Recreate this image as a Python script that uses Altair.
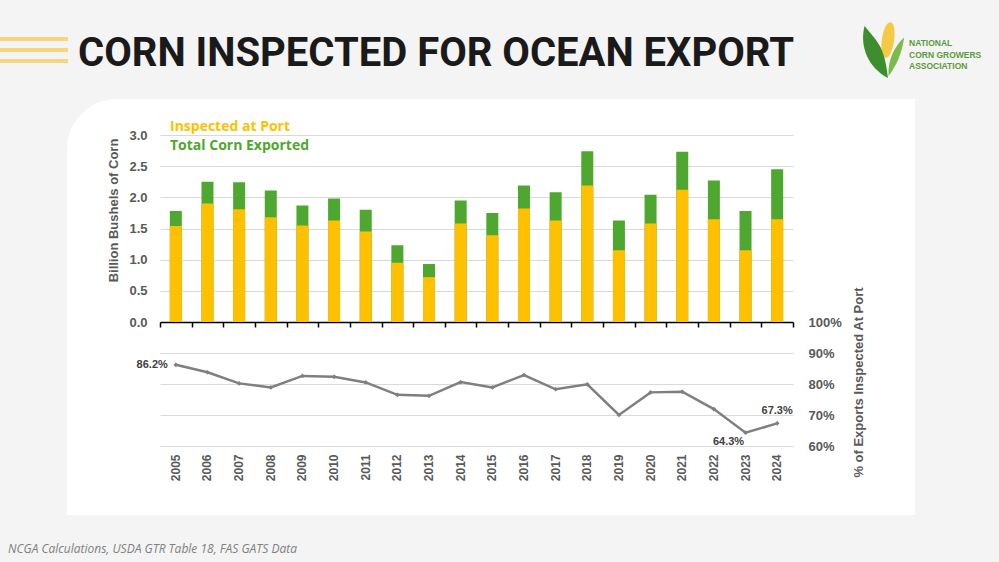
import altair as alt
import pandas as pd

# ---------------- data ----------------
years = ["2005", "2006", "2007", "2008", "2009", "2010", "2011", "2012", "2013", "2014",
         "2015", "2016", "2017", "2018", "2019", "2020", "2021", "2022", "2023", "2024"]
total_exported = [1.78, 2.25, 2.24, 2.11, 1.87, 1.98, 1.80, 1.23, 0.93, 1.95,
                  1.75, 2.19, 2.08, 2.74, 1.63, 2.04, 2.73, 2.27, 1.78, 2.45]
inspected_at_port = [1.54, 1.90, 1.81, 1.68, 1.55, 1.63, 1.45, 0.95, 0.72, 1.58,
                     1.39, 1.82, 1.63, 2.19, 1.15, 1.58, 2.12, 1.65, 1.15, 1.65]
pct_inspected = [86.2, 83.8, 80.2, 78.9, 82.6, 82.3, 80.5, 76.5, 76.2, 80.6,
                 78.9, 82.9, 78.3, 79.9, 70.0, 77.3, 77.5, 71.9, 64.3, 67.3]
bar_ticks = [0, 0.5, 1.0, 1.5, 2.0, 2.5, 3.0]
pct_ticks = [60, 70, 80, 90, 100]
legend_labels = ["Inspected at Port", "Total Corn Exported"]
annotated_years = ["2005", "2023", "2024"]

title_text = "CORN INSPECTED FOR OCEAN EXPORT"
source_text = "NCGA Calculations, USDA GTR Table 18, FAS GATS Data"
logo_lines = ["NATIONAL", "CORN GROWERS", "ASSOCIATION"]

df = pd.DataFrame({"year": years, "total": total_exported,
                   "inspected": inspected_at_port, "pct": pct_inspected})

# ---------------- layout / style ----------------
W, H = 633, 187          # bar plot area
XO, YO = 160, 135        # plot origin on the page
def px(v): return v - XO
def py(v): return v - YO

YELLOW = "#FFC000"
GREEN = "#4EA72E"
LINE = "#7F7F7F"
AXG = "#595959"
GRID = "#D9D9D9"
BG = "#F4F4F4"
AXFONT = "Liberation Sans"

one = pd.DataFrame({"k": [0]})


def rect(x1, x2, y1, y2, color):
    return alt.Chart(one).mark_rect(color=color, strokeWidth=0).encode(
        x=alt.value(px(x1)), x2=alt.value(px(x2)),
        y=alt.value(py(y1)), y2=alt.value(py(y2)))


def label(text, x, y, **kw):
    return alt.Chart(pd.DataFrame({"t": [text]})).mark_text(**kw).encode(
        text="t:N", x=alt.value(px(x)), y=alt.value(py(y)))


def shape(path, cx, cy, side, color, angle=0):
    return alt.Chart(one).mark_point(shape=path, filled=True, opacity=1, strokeWidth=0,
                                     color=color, angle=angle).encode(
        x=alt.value(px(cx)), y=alt.value(py(cy)), size=alt.value(side * side))


# page frame: grey outside the white panel
frame = [
    rect(0, 999, 0, 99, BG),
    rect(0, 67, 99, 562, BG),
    rect(915, 999, 99, 562, BG),
    rect(67, 915, 515, 562, BG),
    shape("M -1 -1 L 1 -1 A 2 2 0 0 0 -1 1 Z", 92, 124, 50, BG),
]

stripes = [rect(0, 68, y - 2, y + 2, "#F8D57C") for y in (39, 50, 61)]

title = label(title_text, 78, 66, align="left", baseline="alphabetic",
              font="Roboto", fontSize=40, fontWeight="bold", color="#1A1A1A")

source = label(source_text, 8, 549, align="left", baseline="middle",
               font="Open Sans", fontSize=12, fontStyle="italic", color="#808080")

LOGO_G = "#5A9A3C"
logo = [
    shape("M 0 -1 C 0.45 -1 0.45 1 0 1 C -0.45 1 -0.45 -1 0 -1 Z", 888, 40, 36, "#F6C945", 8),
    shape("M -0.75 -1 C -0.95 -0.2 -0.6 0.6 0.15 1 C 0.1 0.5 0.0 0 -0.2 -0.3 "
          "C -0.35 -0.55 -0.6 -0.8 -0.75 -1 Z", 884, 52, 52, "#3E8E2F"),
    shape("M 0.8 -0.6 C 0.45 -0.3 0.1 0.3 0.15 1 C 0.45 0.6 0.7 0.1 0.8 -0.6 Z",
          885, 52, 48, "#7DBA4A"),
    label(logo_lines[0], 909, 43, align="left", baseline="middle", font=AXFONT,
          fontSize=8.5, fontWeight="bold", color=LOGO_G),
    label(logo_lines[1], 909, 54.5, align="left", baseline="middle", font=AXFONT,
          fontSize=8.5, fontWeight="bold", color=LOGO_G),
    label(logo_lines[2], 909, 66, align="left", baseline="middle", font=AXFONT,
          fontSize=8.5, fontWeight="bold", color=LOGO_G),
]

legend = [
    label(legend_labels[0], 170, 127, align="left", baseline="middle",
          font="Open Sans", fontSize=14, fontWeight="bold", color=YELLOW),
    label(legend_labels[1], 170, 146, align="left", baseline="middle",
          font="Open Sans", fontSize=14, fontWeight="bold", color=GREEN),
]

# ---------------- bars ----------------
bar_x_axis = alt.Axis(orient="bottom", labels=False, ticks=True, tickBand="extent",
                      tickSize=5, tickColor="black", tickWidth=1.5,
                      domainColor="black", domainWidth=1.5, grid=False, title=None)
bar_y_axis = alt.Axis(values=bar_ticks, format=".1f", grid=True, gridColor=GRID,
                      domain=False, ticks=False, labelPadding=13, labelFontSize=13,
                      labelFont=AXFONT, labelFontWeight="bold", labelColor=AXG,
                      title="Billion Bushels of Corn", titleX=-47, titleY=75,
                      titleAngle=-90, titleAlign="center", titleBaseline="middle",
                      titleFont=AXFONT, titleFontSize=13, titleFontWeight="bold",
                      titleColor=AXG)
x_bar = alt.X("year:N", sort=years, title=None,
              scale=alt.Scale(paddingInner=0, paddingOuter=0), axis=bar_x_axis)
y_scale = alt.Scale(domain=[0, 3], nice=False)

green = alt.Chart(df).mark_bar(size=12, color=GREEN).encode(
    x=x_bar, y=alt.Y("total:Q", scale=y_scale, axis=bar_y_axis))
yellow = alt.Chart(df).mark_bar(size=12, color=YELLOW).encode(
    x=x_bar, y=alt.Y("inspected:Q", scale=y_scale, axis=bar_y_axis))

bars_group = alt.layer(*frame, *stripes, title, source, *logo, *legend, green, yellow)

# ---------------- line ----------------
line_x_axis = alt.Axis(orient="bottom", offset=124, labelAngle=-90, domain=False,
                       ticks=False, labelPadding=8, labelFontSize=12, labelFont=AXFONT,
                       labelFontWeight="bold", labelColor=AXG, title=None, grid=False)
line_y_axis = alt.Axis(orient="right", values=pct_ticks, labelExpr="datum.value + '%'",
                       grid=True,
                       gridColor={"condition": {"test": "datum.value >= 100",
                                                "value": "transparent"},
                                  "value": GRID},
                       domain=False, ticks=False, labelPadding=15, labelFontSize=13,
                       labelFont=AXFONT, labelFontWeight="bold", labelColor=AXG,
                       title="% of Exports Inspected At Port", titleAngle=-90,
                       titleX=65, titleY=247, titleAlign="center", titleBaseline="middle",
                       titleFont=AXFONT, titleFontSize=13, titleFontWeight="bold",
                       titleColor=AXG)
x_line = alt.X("year:N", sort=years, title=None, axis=line_x_axis)
y_line = alt.Y("pct:Q", scale=alt.Scale(domain=[60, 100], range=[311, 187],
                                        nice=False, zero=False), axis=line_y_axis)

line = alt.Chart(df).mark_line(color=LINE, strokeWidth=2.5).encode(x=x_line, y=y_line)
pts = alt.Chart(df).mark_point(shape="diamond", filled=True, size=22, color=LINE,
                               opacity=1).encode(x=x_line, y=y_line)


def annot(yr, **kw):
    return alt.Chart(df).transform_filter(alt.datum.year == yr).transform_calculate(
        lab="format(datum.pct, '.1f') + '%'").mark_text(
        font=AXFONT, fontSize=11, fontWeight="bold", color="#404040", **kw).encode(
        x=x_line, y=y_line, text="lab:N")


annots = [
    annot(annotated_years[0], align="right", baseline="middle", dx=-8),
    annot(annotated_years[1], align="center", baseline="top", dx=-17, dy=3),
    annot(annotated_years[2], align="center", baseline="bottom", dy=-7),
]

line_group = alt.layer(line, pts, *annots)

chart = alt.layer(bars_group, line_group).resolve_scale(
    y="independent").resolve_axis(x="independent", y="independent").properties(
    width=W, height=H, background="white",
    autosize=alt.AutoSizeParams(type="none"),
    padding={"left": XO, "top": YO, "right": 999 - XO - W, "bottom": 562 - YO - H},
).configure_view(stroke=None)

chart.save("out.html", embed_options={"renderer": "svg", "actions": False})
